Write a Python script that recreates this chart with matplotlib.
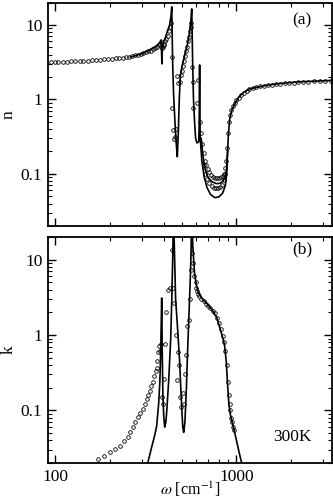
import matplotlib
matplotlib.use("Agg")
import matplotlib.pyplot as plt
from matplotlib.ticker import LogLocator, NullFormatter, FixedLocator, FixedFormatter

plt.rcParams['font.family'] = ['Liberation Serif', 'DejaVu Serif']
plt.rcParams['mathtext.fontset'] = 'stix'

# ---------------- data: panel (a), refractive index n ----------------
n_data_w = [94, 99, 104, 110, 116, 122, 129, 136, 143, 151, 159, 168, 177, 186, 196, 206, 216,
            226, 236, 246, 256, 266, 276, 286, 296, 306, 316, 326, 336, 346, 356, 366, 376,
            380, 385, 388, 392, 396, 400, 405, 410, 418, 425, 432, 437, 440, 443, 447, 452,
            458, 466, 470, 476, 487, 493, 498, 505, 512, 520, 528, 535, 542, 548, 555, 560,
            565, 566, 573, 580, 603, 611, 630, 640, 650, 660, 670, 680, 695, 710, 725, 740,
            760, 780, 800, 820, 840, 855, 870, 880, 890, 900, 910, 925, 940, 960, 980, 1000,
            1030, 1060, 1100, 1140, 1180, 1230, 1290, 1350, 1420, 1500, 1580, 1660, 1750,
            1850, 1960, 2080, 2200, 2350, 2500, 2700, 2900, 3100, 3350]
n_data_v = [3.2, 3.2, 3.2, 3.2, 3.22, 3.24, 3.26, 3.28, 3.3, 3.32, 3.35, 3.38, 3.42, 3.45, 3.48,
            3.52, 3.56, 3.6, 3.65, 3.7, 3.76, 3.83, 3.9, 3.98, 4.07, 4.17, 4.28, 4.4, 4.53, 4.7,
            4.88, 5.1, 5.4, 5.5, 5.9, 4.9, 5.0, 5.3, 5.6, 6.0, 6.4, 7.2, 8.2, 9.5, 10.5, 3.7,
            0.77, 0.39, 0.29, 0.31, 0.4, 2.07, 1.67, 1.7, 2.1, 2.4, 2.8, 3.3, 3.8, 4.4, 5.1,
            6.0, 6.9, 8.2, 9.5, 10.5, 2.7, 1.72, 0.77, 0.9, 1.83, 0.5, 0.35, 0.25, 0.19, 0.15,
            0.13, 0.115, 0.105, 0.097, 0.092, 0.089, 0.088, 0.088, 0.09, 0.095, 0.1, 0.12,
            0.15, 0.22, 0.35, 0.5, 0.62, 0.72, 0.82, 0.9, 0.97, 1.05, 1.13, 1.22, 1.3, 1.37,
            1.42, 1.46, 1.5, 1.53, 1.56, 1.58, 1.6, 1.62, 1.64, 1.66, 1.68, 1.7, 1.72, 1.73,
            1.75, 1.76, 1.77, 1.78]

n_data2_w = [660, 675, 690, 710, 730, 750, 770, 790, 810, 830, 850, 865]
n_data2_v = [0.13, 0.1, 0.085, 0.075, 0.068, 0.065, 0.064, 0.065, 0.067, 0.072, 0.082, 0.1]

n_fit_w = [260, 300, 330, 360, 378, 384, 386, 388, 390, 395, 405, 418, 428, 436, 440, 442, 445,
           450, 458, 466, 472, 478, 484, 490, 500, 518, 538, 552, 562, 567, 570, 574, 580, 588,
           596, 606, 620, 624, 627, 629, 632, 645, 665, 690, 720, 760, 800, 840, 870, 885, 895,
           905, 920, 945, 976, 1000, 1040, 1100, 1180, 1290, 1500, 1720, 2200, 3400]
n_fit_v = [3.7, 4.1, 4.6, 5.2, 5.8, 6.3, 4.5, 3.0, 4.5, 5.9, 6.7, 8.5, 10, 13.5, 17.5, 8, 3,
           1.2, 0.5, 0.25, 0.17, 0.35, 1.0, 2.0, 2.7, 3.9, 5.6, 8.0, 12, 16.4, 8, 3, 1.0, 0.5,
           0.3, 0.26, 0.27, 0.5, 2.9, 0.6, 0.3, 0.15, 0.09, 0.065, 0.053, 0.048, 0.049, 0.055,
           0.07, 0.1, 0.2, 0.35, 0.55, 0.72, 0.85, 0.95, 1.1, 1.25, 1.38, 1.45, 1.56, 1.63,
           1.72, 1.8]

n_fit2_w = [640, 655, 670, 690, 715, 745, 780, 815, 845, 870, 885, 895]
n_fit2_v = [0.3, 0.17, 0.12, 0.095, 0.083, 0.077, 0.074, 0.075, 0.08, 0.092, 0.12, 0.2]

# ---------------- data: panel (b), extinction coefficient k ----------------
k_data_w = [172, 186, 200, 213, 227, 240, 252, 260, 268, 277, 286, 295, 305, 312, 320, 326, 333,
            339, 345, 352, 358, 363, 366, 370, 375, 380, 384, 390, 394, 400, 405, 410, 420,
            430, 440, 448, 455, 462, 470, 478, 482, 488, 495, 505, 512, 520, 528, 535, 545,
            555, 560, 566, 575, 585, 595, 602, 608, 615, 625, 640, 660, 680, 700, 720, 740,
            760, 780, 800, 820, 840, 855, 870, 885, 900, 910, 918, 925, 935, 945, 955, 965]
k_data_v = [0.0224, 0.025, 0.028, 0.031, 0.034, 0.039, 0.044, 0.052, 0.061, 0.07, 0.081,
            0.092, 0.103, 0.12, 0.14, 0.16, 0.18, 0.21, 0.24, 0.29, 0.33, 0.37, 0.45, 0.6,
            0.72, 0.62, 0.75, 0.15, 0.12, 0.26, 0.75, 2.0, 4.0, 4.2, 13.5, 4.2, 2.7, 1.0,
            0.25, 0.6, 0.4, 0.15, 0.11, 0.17, 0.12, 0.3, 0.55, 1.3, 1.6, 3.0, 7.4, 12.4, 9,
            6, 5.0, 4.2, 3.8, 3.5, 3.3, 3.0, 2.8, 2.6, 2.45, 2.3, 2.1, 1.95, 1.7, 1.45, 1.2,
            0.98, 0.82, 0.62, 0.4, 0.24, 0.16, 0.12, 0.1, 0.08, 0.07, 0.06, 0.055]

k_fit_w = [324, 340, 355, 363, 372, 378, 382, 387, 390, 393, 397, 402, 408, 413, 423, 434, 440,
           445, 450, 462, 474, 486, 496, 506, 512, 520, 530, 538, 548, 556, 562, 566, 570, 575,
           588, 603, 620, 651, 700, 740, 780, 807, 838, 860, 880, 895, 910, 930, 955, 985,
           1020, 1060, 1085]
k_fit_v = [0.02, 0.032, 0.048, 0.062, 0.12, 0.235, 0.6, 3.1, 0.5, 0.16, 0.085, 0.06, 0.07,
           0.1, 0.25, 0.9, 3, 10, 40, 3, 1.2, 0.45, 0.15, 0.06, 0.051, 0.07, 0.2, 0.6, 2, 5,
           12, 40, 30, 15, 6.5, 4.5, 3.6, 3.0, 2.5, 2.1, 1.7, 1.3, 0.95, 0.75, 0.45, 0.22,
           0.12, 0.085, 0.065, 0.048, 0.033, 0.022, 0.018]

x_ticks = [100, 1000]
x_ticklabels = ['100', '1000']
y_ticks = [0.1, 1, 10]
y_ticklabels = ['0.1', '1', '10']
panel_labels = ['(a)', '(b)']
temp_label = '300K'
xlim = (91, 3380)
ylim = (0.02, 20)

fig = plt.figure(figsize=(3.33, 5.01), dpi=100)
ax1 = fig.add_axes([0.144, 0.549, 0.853, 0.446])
ax2 = fig.add_axes([0.144, 0.0758, 0.853, 0.451])

line_kw = dict(color='black', lw=1.2)
mk_kw = dict(ls='none', marker='o', ms=2.6, mfc='none', mec='black', mew=0.6)

ax1.plot(n_data_w, n_data_v, **mk_kw)
ax1.plot(n_data2_w, n_data2_v, **mk_kw)
ax1.plot(n_fit_w, n_fit_v, **line_kw)
ax1.plot(n_fit2_w, n_fit2_v, **line_kw)

ax2.plot(k_data_w, k_data_v, **mk_kw)
ax2.plot(k_fit_w, k_fit_v, **line_kw)

for ax, lab, plab in [(ax1, 'n', panel_labels[0]), (ax2, 'k', panel_labels[1])]:
    ax.set_xscale('log')
    ax.set_yscale('log')
    ax.set_xlim(*xlim)
    ax.set_ylim(*ylim)
    ax.xaxis.set_major_locator(FixedLocator(x_ticks))
    ax.xaxis.set_major_formatter(FixedFormatter(x_ticklabels))
    ax.xaxis.set_minor_locator(LogLocator(base=10, subs=range(2, 10), numticks=20))
    ax.xaxis.set_minor_formatter(NullFormatter())
    ax.yaxis.set_major_locator(FixedLocator(y_ticks))
    ax.yaxis.set_major_formatter(FixedFormatter(y_ticklabels))
    ax.yaxis.set_minor_locator(LogLocator(base=10, subs=range(2, 10), numticks=20))
    ax.yaxis.set_minor_formatter(NullFormatter())
    ax.tick_params(which='both', direction='in', top=True, right=True, labelsize=12.5)
    ax.tick_params(which='major', length=6, width=1.0, pad=4)
    ax.tick_params(which='minor', length=3, width=0.8)
    for s in ax.spines.values():
        s.set_linewidth(1.3)
    ax.set_ylabel(lab, fontsize=12.5)
    ax.yaxis.set_label_coords(-0.11, 0.5)
    ax.text(0.895, 0.92 if ax is ax1 else 0.945, plab, transform=ax.transAxes,
            ha='center', va='center', fontsize=12.5)

ax1.tick_params(labelbottom=False)
ax2.text(0.86, 0.115, temp_label, transform=ax2.transAxes, ha='center', va='center', fontsize=12.5)
ax2.set_xlabel(r'$\omega$ [cm$^{-1}$]', fontsize=11.5, labelpad=-3.5)

fig.savefig('out.png', dpi=100)
